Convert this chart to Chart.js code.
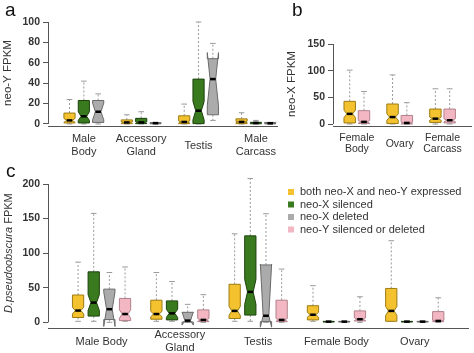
<!DOCTYPE html>
<html>
<head>
<meta charset="utf-8">
<script src="https://cdn.jsdelivr.net/npm/chart.js@4.4.0/dist/chart.umd.min.js"></script>
<style>
  html, body { margin: 0; padding: 0; background: #fff; }
  body { width: 474px; height: 353px; position: relative; overflow: hidden; }
  canvas { position: absolute; }
  #chartA { left: 0; top: 0; }
  #chartB { left: 280px; top: 0; }
  #chartC { left: 0; top: 160px; }
</style>
</head>
<body>
<canvas id="chartA" width="290" height="165"></canvas>
<canvas id="chartB" width="194" height="165"></canvas>
<canvas id="chartC" width="474" height="193"></canvas>
<script>
// each box: [min, q1, median, q3, max, notchLow, notchHigh]

// panel a - male tissues, neo-Y FPKM
const tissuesA = [['Male', 'Body'], ['Accessory', 'Gland'], 'Testis', ['Male', 'Carcass']];
const ticksA = [0, 20, 40, 60, 80, 100];
const bothExprA = [[0, 1, 3.5, 10.7, 24, 1.5, 5.5], [0, 0.3, 1.5, 4, 9, 0.8, 2.2], [0, 0.3, 2, 8, 19.5, 1, 3], [0, 0.3, 2, 5, 11, 1.3, 2.7]];
const xSilencedA = [[0, 1, 7.5, 23, 42, 3.5, 12], [0, 0.3, 1.5, 5.5, 12, 0.8, 2.2], [0, 0.3, 13, 44, 100, 4, 22], [0, 0.2, 1, 1.6, 3.5, 0.7, 1.3]];
const xDeletedA = [[0, 1.5, 12, 23, 29.5, 4, 20.5], [0, 0.2, 0.8, 1.2, 1.5, 0.6, 1], [3.5, 9, 44, 64, 79, 18, 70], [0, 0.1, 0.7, 1.5, 1.5, 0.4, 1]];

// panel b - female tissues, neo-X FPKM
const tissuesB = [['Female', 'Body'], 'Ovary', ['Female', 'Carcass']];
const ticksB = [0, 50, 100, 150];
const bothExprB = [[0, 2, 19, 42.5, 101, 12, 26], [0, 1, 13, 37.5, 92, 7, 19], [0, 3, 10, 28, 66, 7, 13]];
const ySilencedB = [[0, 1, 4, 25, 61, 1.5, 6.5], [0, 0, 2, 16, 40, 0.5, 3.5], [0, 2, 7, 28, 66, 4, 10]];

// panel c - D. pseudoobscura orthologs
const tissuesC = ['Male Body', ['Accessory', 'Gland'], 'Testis', 'Female Body', 'Ovary'];
const ticksC = [0, 50, 100, 150, 200];
const bothExprC = [[1.5, 7, 17, 39.5, 87, 12, 22], [1.5, 4.5, 12, 32, 72, 8, 16], [1.5, 5.5, 16.5, 55, 128, 10, 23], [1.5, 3.5, 11, 24, 53, 7.5, 14.5], [1.5, 1.5, 16.5, 49, 118, 10, 23]];
const xSilencedC = [[1.5, 9, 28.5, 73, 157.5, 17, 40], [1.5, 3.5, 13, 31, 59, 7, 19], [1.5, 10.5, 44, 125, 208, 26, 62], [0.5, 0.6, 1, 1.4, 1.5, 0.8, 1.2], [0.5, 0.6, 1, 1.4, 1.5, 0.8, 1.2]];
const xDeletedC = [[0, 4, 19, 48, 72, -6, 44], [0, 0.5, 2.5, 14.5, 26, -4, 15], [0, 1, 9.5, 83, 157, -7, 84], [0.5, 0.6, 1, 1.4, 1.5, 0.8, 1.2], [0.5, 0.6, 1, 1.4, 1.5, 0.8, 1.2]];
const ySilencedC = [[1.5, 2.5, 12, 34.5, 80, 6, 18], [0, 1, 3.5, 18, 40, 1.5, 5.5], [0, 1, 3.5, 32, 77, 1.5, 5.5], [0, 2, 4.5, 16.5, 37, 2.5, 6.5], [0, 1, 2, 15.5, 35.5, 1, 3]];

const seriesNames = ['both neo-X and neo-Y expressed', 'neo-X silenced', 'neo-X deleted', 'neo-Y silenced or deleted'];

const STYLE = {
  both: { fill: '#F5C22F', edge: '#9C7C14' },
  xSil: { fill: '#3A7A1E', edge: '#1D420E' },
  xDel: { fill: '#ABABAB', edge: '#6A6A6A' },
  ySil: { fill: '#F3B7C3', edge: '#B2818C' }
};
const FONT = "'Liberation Sans', Arial, sans-serif";
Chart.defaults.font.family = FONT;

const boxPlots = {
  id: 'boxPlots',
  afterDraw(chart, args, opts) {
    const ctx = chart.ctx;
    const x = chart.scales.x, y = chart.scales.y;
    const area = chart.chartArea;
    ctx.save();

    // y axis line only across the tick range, like R
    const ax = Math.round(area.left) + 0.5;
    ctx.strokeStyle = '#555';
    ctx.lineWidth = 1;
    ctx.beginPath();
    ctx.moveTo(ax, y.getPixelForValue(opts.ticks[0]));
    ctx.lineTo(ax, y.getPixelForValue(opts.ticks[opts.ticks.length - 1]));
    ctx.stroke();

    const hw = (x.getPixelForValue(opts.boxWex) - x.getPixelForValue(0)) / 2;
    chart.data.datasets.forEach(ds => {
      ds.stats.forEach((s, i) => {
        const px = x.getPixelForValue(ds.data[i].x);
        const [mn, q1, md, q3, mx, nl, nh] = s.map(v => y.getPixelForValue(v));
        // whiskers
        ctx.strokeStyle = '#9a9a9a';
        ctx.lineWidth = 1;
        ctx.setLineDash([2, 2]);
        ctx.beginPath();
        ctx.moveTo(px, q3); ctx.lineTo(px, mx);
        ctx.moveTo(px, q1); ctx.lineTo(px, mn);
        ctx.stroke();
        ctx.setLineDash([]);
        ctx.beginPath();
        ctx.moveTo(px - hw / 2, mx); ctx.lineTo(px + hw / 2, mx);
        ctx.moveTo(px - hw / 2, mn); ctx.lineTo(px + hw / 2, mn);
        ctx.stroke();
        // notched box
        ctx.beginPath();
        ctx.moveTo(px - hw, q1);
        ctx.lineTo(px + hw, q1);
        ctx.lineTo(px + hw, nl);
        ctx.lineTo(px + hw / 2, md);
        ctx.lineTo(px + hw, nh);
        ctx.lineTo(px + hw, q3);
        ctx.lineTo(px - hw, q3);
        ctx.lineTo(px - hw, nh);
        ctx.lineTo(px - hw / 2, md);
        ctx.lineTo(px - hw, nl);
        ctx.closePath();
        ctx.fillStyle = ds.style.fill;
        ctx.fill();
        ctx.strokeStyle = ds.style.edge;
        ctx.lineWidth = 1;
        ctx.stroke();
        // median
        ctx.strokeStyle = '#000';
        ctx.lineWidth = 2.5;
        ctx.beginPath();
        ctx.moveTo(px - hw / 2, md); ctx.lineTo(px + hw / 2, md);
        ctx.stroke();
      });
    });

    // axis title (rotated)
    ctx.fillStyle = '#333';
    ctx.textBaseline = 'middle';
    ctx.save();
    const cy = (y.getPixelForValue(opts.ticks[0]) + y.getPixelForValue(opts.ticks[opts.ticks.length - 1])) / 2;
    ctx.translate(opts.titleX, cy);
    ctx.rotate(-Math.PI / 2);
    const parts = opts.title;
    let total = 0;
    parts.forEach(p => { ctx.font = p.font; total += ctx.measureText(p.text).width; });
    let tx = -total / 2;
    ctx.textAlign = 'left';
    parts.forEach(p => { ctx.font = p.font; ctx.fillText(p.text, tx, 0); tx += ctx.measureText(p.text).width; });
    ctx.restore();

    // panel letter
    ctx.textBaseline = 'alphabetic';
    ctx.textAlign = 'left';
    ctx.fillStyle = '#111';
    ctx.font = '19px ' + FONT;
    ctx.fillText(opts.letter[0], opts.letter[1], opts.letter[2]);

    // legend
    if (opts.legend) {
      ctx.font = '11px ' + FONT;
      ctx.textBaseline = 'middle';
      opts.legend.items.forEach((it, k) => {
        const ly = opts.legend.y + k * opts.legend.step;
        ctx.fillStyle = it.fill;
        ctx.fillRect(opts.legend.x, ly - 3, 6, 6);
        ctx.fillStyle = '#333';
        ctx.fillText(it.text, opts.legend.x + 12, ly);
      });
    }
    ctx.restore();
  }
};

function boxChart(id, cfg) {
  const nS = cfg.series.length;
  const labelPos = cfg.tissues.map((t, i) => i * (nS + 1) + (nS + 1) / 2);
  const datasets = cfg.series.map((s, j) => ({
    label: s.name,
    stats: s.stats,
    style: s.style,
    data: s.stats.map((b, i) => ({ x: i * (nS + 1) + j + 1, y: b[2] })),
    pointRadius: 0,
    showLine: false
  }));
  return new Chart(document.getElementById(id), {
    type: 'scatter',
    data: { datasets },
    plugins: [boxPlots],
    options: {
      responsive: false,
      animation: false,
      events: [],
      layout: { padding: { top: cfg.padTop, right: cfg.padRight, left: 0, bottom: 0 } },
      scales: {
        x: {
          type: 'linear',
          bounds: 'data',
          min: cfg.xMin,
          max: cfg.xMax,
          afterBuildTicks: s => { s.ticks = labelPos.map(v => ({ value: v })); },
          afterFit: s => { s.height = cfg.xHeight; },
          ticks: {
            callback: (v, i) => cfg.tissues[i],
            autoSkip: false,
            maxRotation: 0,
            crossAlign: 'center',
            padding: cfg.labelPad,
            color: '#333',
            font: { size: cfg.labelSize, lineHeight: cfg.labelLH }
          },
          grid: { display: false, drawTicks: false },
          border: { display: true, color: '#555', width: 1 }
        },
        y: {
          bounds: 'data',
          min: cfg.yMin,
          max: cfg.yMax,
          afterBuildTicks: s => { s.ticks = cfg.ticks.map(v => ({ value: v })); },
          afterFit: s => { s.width = cfg.yWidth; },
          ticks: { color: '#333', padding: 3, font: { size: 10.5, weight: 'bold' } },
          grid: { drawOnChartArea: false, drawTicks: true, tickLength: 5, color: '#555' },
          border: { display: false }
        }
      },
      plugins: {
        legend: { display: false },
        tooltip: { enabled: false },
        boxPlots: {
          ticks: cfg.ticks,
          boxWex: cfg.boxWex,
          title: cfg.title,
          titleX: cfg.titleX,
          letter: cfg.letter,
          legend: cfg.legend
        }
      }
    }
  });
}

boxChart('chartA', {
  tissues: tissuesA, ticks: ticksA,
  series: [
    { name: seriesNames[0], stats: bothExprA, style: STYLE.both },
    { name: seriesNames[1], stats: xSilencedA, style: STYLE.xSil },
    { name: seriesNames[2], stats: xDeletedA, style: STYLE.xDel }
  ],
  xMin: -0.5, xMax: 15.5, yMin: -2, yMax: 100,
  padTop: 22, padRight: 10, yWidth: 48, xHeight: 39,
  labelPad: 13, labelSize: 11, labelLH: 1.2, boxWex: 0.78,
  title: [{ text: 'neo-Y FPKM', font: '11.5px ' + FONT }], titleX: 8,
  letter: ['a', 5, 16]
});

boxChart('chartB', {
  tissues: tissuesB, ticks: ticksB,
  series: [
    { name: seriesNames[0], stats: bothExprB, style: STYLE.both },
    { name: seriesNames[3], stats: ySilencedB, style: STYLE.ySil }
  ],
  xMin: -0.17, xMax: 9.5, yMin: -3.75, yMax: 150,
  padTop: 44, padRight: 1, yWidth: 53, xHeight: 39,
  labelPad: 12, labelSize: 10.5, labelLH: 1.1, boxWex: 0.8,
  title: [{ text: 'neo-X FPKM', font: '11.5px ' + FONT }], titleX: 12,
  letter: ['b', 12, 16]
});

boxChart('chartC', {
  tissues: tissuesC, ticks: ticksC,
  series: [
    { name: seriesNames[0], stats: bothExprC, style: STYLE.both },
    { name: seriesNames[1], stats: xSilencedC, style: STYLE.xSil },
    { name: seriesNames[2], stats: xDeletedC, style: STYLE.xDel },
    { name: seriesNames[3], stats: ySilencedC, style: STYLE.ySil }
  ],
  xMin: -0.92, xMax: 25.9, yMin: -8.2, yMax: 200,
  padTop: 24, padRight: 6, yWidth: 48, xHeight: 25,
  labelPad: 7, labelSize: 11, labelLH: 1.2, boxWex: 0.72,
  title: [{ text: 'D.pseudoobscura', font: 'italic 11px ' + FONT }, { text: ' FPKM', font: '11px ' + FONT }], titleX: 9,
  letter: ['c', 6, 17],
  legend: {
    x: 288, y: 32, step: 12.5,
    items: [
      { text: seriesNames[0], fill: STYLE.both.fill },
      { text: seriesNames[1], fill: STYLE.xSil.fill },
      { text: seriesNames[2], fill: STYLE.xDel.fill },
      { text: seriesNames[3], fill: STYLE.ySil.fill }
    ]
  }
});
</script>
</body>
</html>
